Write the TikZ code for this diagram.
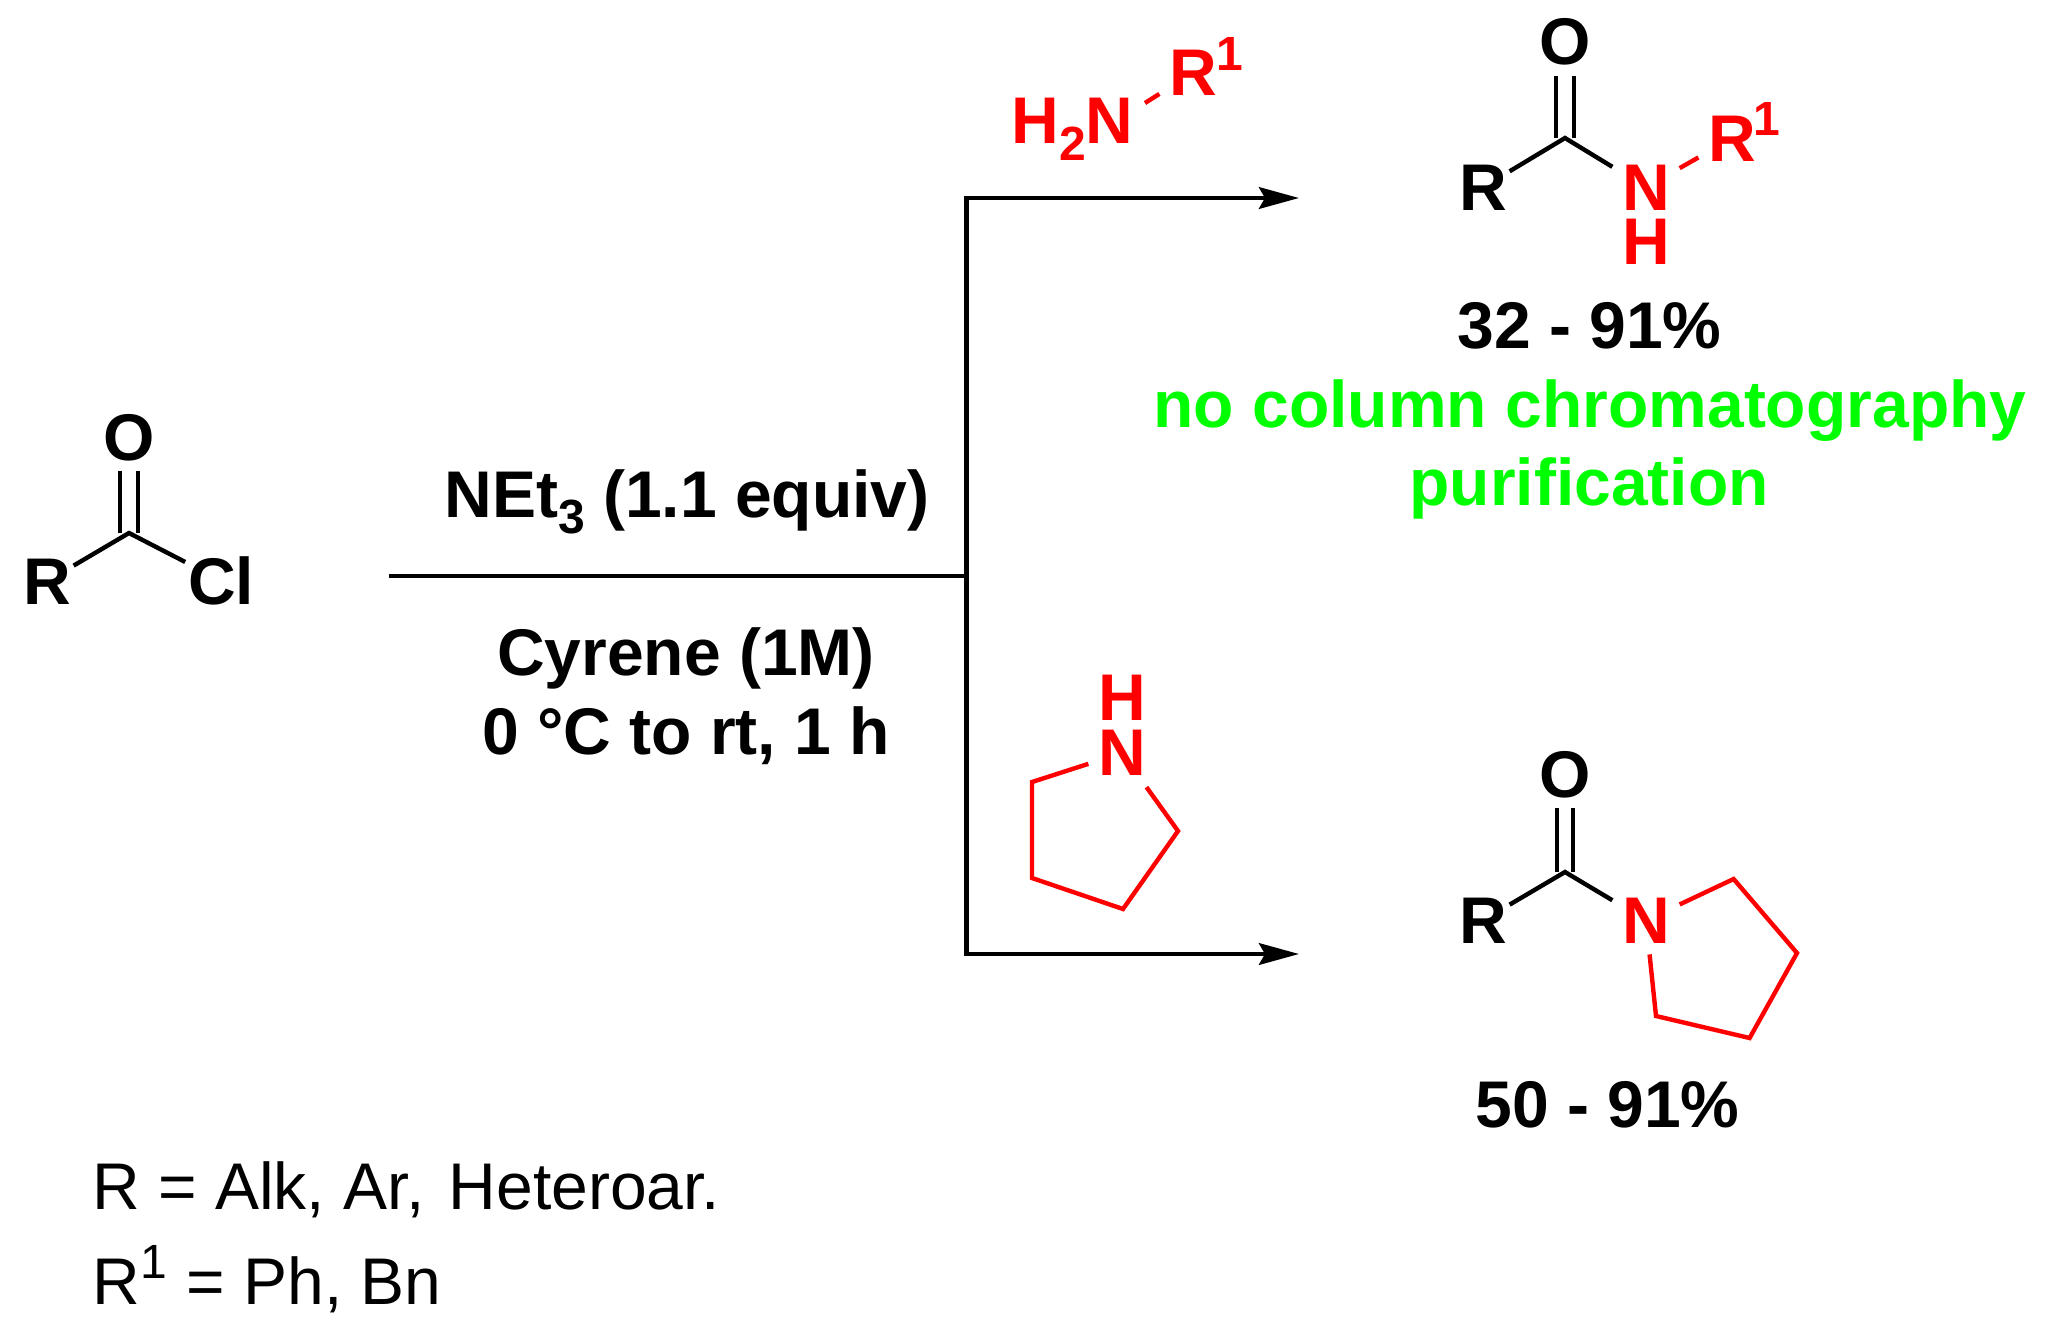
\documentclass[tikz,border=0pt]{standalone}
\usepackage{fontspec}
\setmainfont{Liberation Sans}
\usetikzlibrary{arrows.meta}
\definecolor{aminered}{RGB}{255,0,0}
\definecolor{notegreen}{RGB}{0,255,0}
\newcommand{\lowered}[1]{\raisebox{-8.2pt}{\fontsize{24}{24}\selectfont #1}}
\tikzset{%
    atom/.style={%
        anchor=base,
        inner sep=1.2pt,
        font=\fontsize{33}{36}\selectfont\bfseries
    },
    atom n/.style={atom,inner xsep=4.7pt,inner ysep=5.5pt},
    atom o/.style={atom,inner ysep=5pt},
    atom sup/.style={atom,inner sep=0pt,font=\fontsize{24}{24}\selectfont\bfseries},
    caption/.style={anchor=base,inner sep=0pt,font=\fontsize{33}{36}\selectfont},
    bond/.style={draw,line width=2.2pt},
}

\begin{document}
\begin{tikzpicture}[x=0.5pt,y=-0.5pt,>={Stealth[length=20pt,width=10.8pt,inset=3pt]}]
  \useasboundingbox (0,0) rectangle (2047,1341);

  % acid chloride
  \node[atom o] (o0) at (129,460) {O};
  \node[atom] (r0) at (47,604) {R};
  \node[atom] (cl0) at (221,604) {Cl};
  \coordinate (c0) at (129,533);
  \path[bond] (r0) -- (c0) -- (cl0);
  \path[bond] ([xshift=-4.5pt]o0.south) -- ([xshift=-4.5pt]c0);
  \path[bond] ([xshift=4.5pt]o0.south) -- ([xshift=4.5pt]c0);

  % conditions
  \node[atom] (net) at (687,517) {NEt\lowered{3} (1.1 equiv)};
  \node[atom] (cyrene) at (686,675) {Cyrene (1M)};
  \node[atom] (temp) at (686,754) {0 °C to rt, 1 h};

  % arrows
  \coordinate (start) at (388.5,576);
  \coordinate (split) at (966.5,576);
  \coordinate (tiptop) at (1299,198);
  \coordinate (tipbot) at (1299,954);
  \path[bond] (start) -- (split);
  \path[->,bond] (split) |- (tiptop);
  \path[->,bond] (split) |- (tipbot);

  % primary amine
  \node[atom,aminered] (h2n) at (1072.5,143.6) {H\lowered{2}N};
  \node[atom,aminered,inner xsep=4.7pt] (ramine) at (1193,95.4) {R};
  \node[atom sup,aminered] (supamine) at (1230,70.6) {1};
  \coordinate (nend) at (1145,103);
  \path[bond,aminered] (nend) -- (ramine);

  % secondary amide
  \node[atom o] (o1) at (1565,64.5) {O};
  \node[atom] (r1) at (1483,210) {R};
  \node[atom n,aminered] (n1) at (1646,210) {N};
  \node[atom,aminered] (h1) at (1646,264.5) {H};
  \node[atom,aminered,inner xsep=4.7pt] (r11) at (1732,161) {R};
  \node[atom sup,aminered] (sup1) at (1767,135) {1};
  \coordinate (c1) at (1565,138);
  \path[bond] (r1) -- (c1) -- (n1);
  \path[bond] ([xshift=-4.5pt]o1.south) -- ([xshift=-4.5pt]c1);
  \path[bond] ([xshift=4.5pt]o1.south) -- ([xshift=4.5pt]c1);
  \path[bond,aminered] (n1) -- (r11);

  \node[atom] (yield1) at (1589.5,348) {32 - 91\%};
  \node[atom,notegreen] (note1) at (1590,427) {no column chromatography};
  \node[atom,notegreen] (note2) at (1589,505.5) {purification};

  % pyrrolidine
  \node[atom,aminered] (h2) at (1122,720) {H};
  \node[atom n,aminered] (n2) at (1122,775.7) {N};
  \coordinate (p1) at (1032,782);
  \coordinate (p2) at (1032,878);
  \coordinate (p3) at (1123,909);
  \coordinate (p4) at (1178,831);
  \path[bond,aminered] (n2) -- (p1) -- (p2) -- (p3) -- (p4) -- (n2);

  % tertiary amide
  \node[atom o] (o3) at (1565,797) {O};
  \node[atom] (r3) at (1483,943) {R};
  \node[atom n,aminered] (n3) at (1646,943) {N};
  \coordinate (c3) at (1565,872);
  \coordinate (q1) at (1733.6,879);
  \coordinate (q2) at (1797,953);
  \coordinate (q3) at (1749.6,1038);
  \coordinate (q4) at (1656,1016);
  \path[bond] (r3) -- (c3) -- (n3);
  \path[bond] ([xshift=-4pt]o3.south) -- ([xshift=-4pt]c3);
  \path[bond] ([xshift=4pt]o3.south) -- ([xshift=4pt]c3);
  \path[bond,aminered] (n3) -- (q1) -- (q2) -- (q3) -- (q4) -- (n3);

  \node[atom] (yield3) at (1607.5,1127) {50 - 91\%};

  % substituents
  \node[caption,anchor=base west] (legend1) at (92,1209.5) {R = Alk, Ar,\hspace{3pt} Heteroar.};
  \node[caption,anchor=base west] (legend2) at (92,1304) {R\raisebox{13pt}{\fontsize{24}{24}\selectfont 1}\hspace{0.7pt} = Ph, Bn};
\end{tikzpicture}
\end{document}
